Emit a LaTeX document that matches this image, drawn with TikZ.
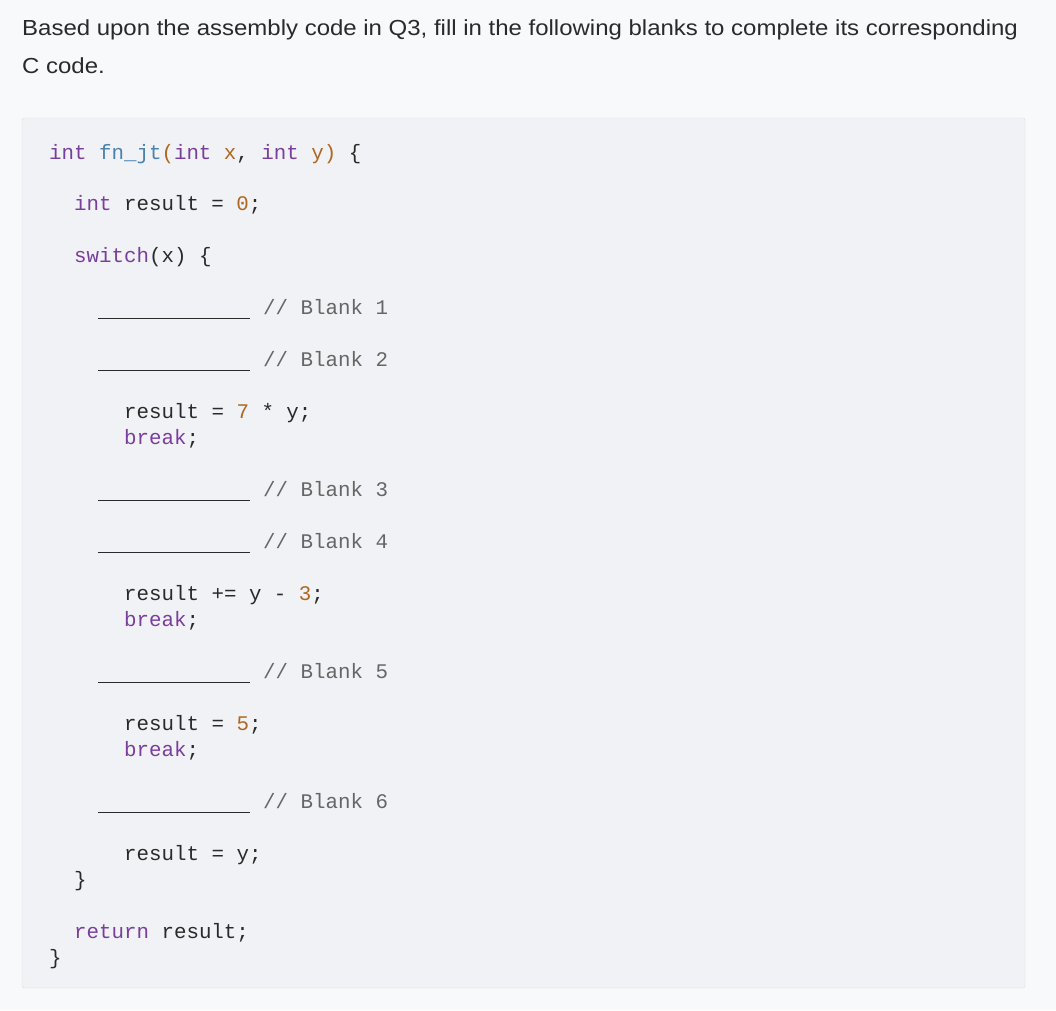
\documentclass[tikz,border=0pt]{standalone}
\usepackage{fontspec}
\setmainfont{Liberation Sans}
\newfontfamily\headfont[FakeStretch=1.1]{Liberation Sans}
\newfontfamily\codefont{Liberation Mono}
\definecolor{kw}{HTML}{7A3E9D}
\definecolor{fn}{HTML}{4A82B0}
\definecolor{num}{HTML}{B0671F}
\definecolor{txt}{HTML}{2A2A2A}
\definecolor{cmt}{HTML}{666666}
\definecolor{pagebg}{HTML}{F8F9FB}
\definecolor{boxbg}{HTML}{F0F2F5}
\definecolor{boxln}{HTML}{DADDE2}
\newcommand{\K}[1]{\textcolor{kw}{#1}}
\newcommand{\F}[1]{\textcolor{fn}{#1}}
\newcommand{\N}[1]{\textcolor{num}{#1}}
\newcommand{\Cm}[1]{\textcolor{cmt}{#1}}
\begin{document}
\begin{tikzpicture}[x=1pt,y=-1pt,
  code/.style={anchor=base west,inner sep=0,font=\codefont\fontsize{20.8}{24}\selectfont,text=txt},
  head/.style={anchor=base west,inner sep=0,font=\headfont\fontsize{21.8}{24}\selectfont,text=txt},
  blank/.style={draw=txt,line width=0.8pt}]
\fill[pagebg] (0,0) rectangle (1056,1010);
\useasboundingbox (0,0) rectangle (1056,1010);
\draw[fill=boxbg,draw=boxln,rounded corners=2pt] (22,118) rectangle (1025,988);
\node[head] (h1) at (22,35) {Based upon the assembly code in Q3, fill in the following blanks to complete its corresponding};
\node[head] (h2) at (22,73) {C code.};
\node[code] (l1) at (49,159) {\K{int} \F{fn\_jt}\N{(}\K{int} \N{x}, \K{int} \N{y)} \{};
\node[code] (l2) at (74,210) {\K{int} result = \N{0};};
\node[code] (l3) at (74,262) {\K{switch}(x) \{};
\foreach \y/\n in {314/1,366/2,496/3,548/4,678/5,808/6}{
  \coordinate (b\n a) at (98,\y+4);
  \coordinate (b\n b) at (250,\y+4);
  \draw[blank] (b\n a) -- (b\n b);
  \node[code] (c\n) at (263,\y) {\Cm{// Blank \n}};
}
\node[code] (r1) at (124,418) {result = \N{7} * y;};
\node[code] (k1) at (124,444) {\K{break};};
\node[code] (r2) at (124,600) {result += y - \N{3};};
\node[code] (k2) at (124,626) {\K{break};};
\node[code] (r3) at (124,730) {result = \N{5};};
\node[code] (k3) at (124,756) {\K{break};};
\node[code] (r4) at (124,860) {result = y;};
\node[code] (e1) at (74,886) {\}};
\node[code] (rt) at (74,938) {\K{return} result;};
\node[code] (e2) at (49,964) {\}};
\end{tikzpicture}
\end{document}
